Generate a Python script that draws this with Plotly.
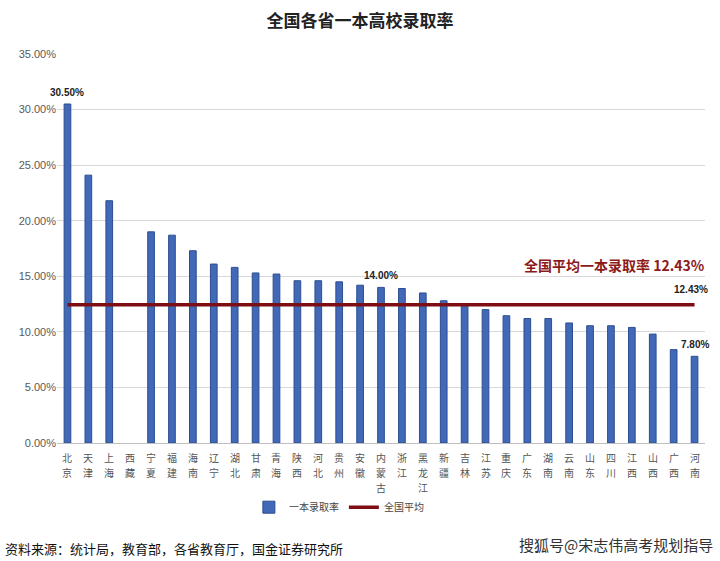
import plotly.graph_objects as go

provinces = ["北京", "天津", "上海", "西藏", "宁夏", "福建", "海南", "辽宁", "湖北", "甘肃",
             "青海", "陕西", "河北", "贵州", "安徽", "内蒙古", "浙江", "黑龙江", "新疆", "吉林",
             "江苏", "重庆", "广东", "湖南", "云南", "山东", "四川", "江西", "山西", "广西", "河南"]
rates = [30.5, 24.1, 21.8, None, 19.0, 18.7, 17.3, 16.1, 15.8, 15.3,
         15.2, 14.6, 14.6, 14.5, 14.2, 14.0, 13.9, 13.5, 12.8, 12.4,
         12.0, 11.45, 11.2, 11.2, 10.8, 10.55, 10.55, 10.4, 9.8, 8.4, 7.8]
national_avg = 12.43
y_ticks = [0, 5, 10, 15, 20, 25, 30, 35]

fig = go.Figure()
fig.add_trace(go.Bar(
    x=provinces, y=rates, name="一本录取率",
    marker=dict(color="#4169B8", line=dict(color="#2C4E8E", width=1)),
    width=0.32,
))
fig.add_trace(go.Scatter(
    x=provinces, y=[national_avg] * len(provinces), name="全国平均",
    mode="lines", line=dict(color="#7E0E14", width=3.5),
))

# vertical (stacked) category labels, one character per line
cat_font = dict(family="Noto Sans CJK SC", size=10, color="#555555")
for p in provinces:
    for k, ch in enumerate(p):
        fig.add_annotation(x=p, y=0, xref="x", yref="y", text=ch, showarrow=False,
                           yanchor="middle", yshift=-(14 + 15 * k), font=cat_font,
                           borderpad=0)

ann_font = dict(family="Liberation Sans, Arial", size=10, color="#222222")
for p, txt in [("北京", "<b>30.50%</b>"), ("内蒙古", "<b>14.00%</b>"), ("河南", "<b>7.80%</b>")]:
    v = rates[provinces.index(p)]
    fig.add_annotation(x=p, y=v, text=txt, showarrow=False, yanchor="bottom", yshift=4,
                       font=ann_font, xref="x", yref="y")
fig.add_annotation(x="河南", y=national_avg, text="<b>12.43%</b>", showarrow=False,
                   yanchor="bottom", yshift=8, xanchor="center", xshift=-4, font=ann_font)
fig.add_annotation(x="河南", y=national_avg, text="<b>全国平均一本录取率 12.43%</b>",
                   showarrow=False, yanchor="bottom", yshift=28, xanchor="right", xshift=12,
                   font=dict(family="Noto Sans CJK SC", size=14, color="#8B1A1A"))

fig.add_annotation(xref="paper", yref="paper", x=-0.083, y=-0.27, xanchor="left", yanchor="middle",
                   text="资料来源：统计局，教育部，各省教育厅，国金证券研究所", showarrow=False,
                   font=dict(family="Noto Sans CJK SC", size=13, color="#111111"))
fig.add_annotation(xref="paper", yref="paper", x=1.015, y=-0.262, xanchor="right", yanchor="middle",
                   text="搜狐号@宋志伟高考规划指导", showarrow=False,
                   font=dict(family="Noto Sans CJK SC", size=15, color="#333333"))

fig.update_layout(
    width=720, height=561,
    margin=dict(l=57, r=15, t=54, b=118),
    paper_bgcolor="white", plot_bgcolor="white",
    title=dict(text="<b>全国各省一本高校录取率</b>", x=0.5, xanchor="center", y=0.962, yanchor="middle",
               font=dict(family="Noto Sans CJK SC", size=17, color="#222222")),
    showlegend=True,
    legend=dict(orientation="h", x=0.435, xanchor="center", y=-0.165, yanchor="middle",
                font=dict(family="Noto Sans CJK SC", size=10, color="#444444"),
                itemwidth=30),
    xaxis=dict(tickmode="array", tickvals=provinces, showticklabels=False,
               range=[-0.5, len(provinces) - 0.5],
               showline=True, linecolor="#BFBFBF", linewidth=1, showgrid=False, ticks="",
               automargin=False),
    yaxis=dict(range=[0, 35], tickvals=y_ticks, ticktext=[f"{v:.2f}%" for v in y_ticks],
               tickfont=dict(family="Liberation Sans, Arial", size=11, color="#595959"),
               showgrid=True, gridcolor="#D9D9D9", gridwidth=1, zeroline=False, ticks="",
               automargin=False),
)

fig.write_html("out.html")
